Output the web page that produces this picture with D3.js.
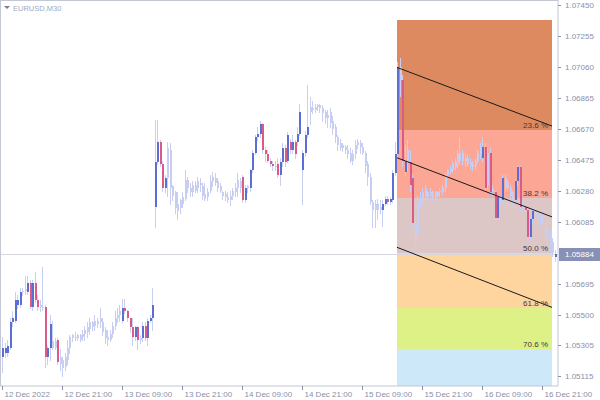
<!DOCTYPE html>
<html><head><meta charset="utf-8">
<script src="https://cdn.jsdelivr.net/npm/d3@7"></script>
<style>html,body{margin:0;padding:0;background:#fff;}svg{display:block;font-family:"Liberation Sans",Arial,sans-serif;}</style>
</head><body><svg id="chart" width="600" height="400"></svg>
<script>
const symbolTitle = "EURUSD,M30";
const timeLabels = ["12 Dec 2022","12 Dec 21:00","13 Dec 09:00","13 Dec 21:00","14 Dec 09:00","14 Dec 21:00","15 Dec 09:00","15 Dec 21:00","16 Dec 09:00","16 Dec 21:00"];
const timeLabelBars = [0,24,48,72,96,120,144,168,192,216];
const priceTickLabels = ["1.07450","1.07255","1.07060","1.06865","1.06670","1.06475","1.06280","1.06085","1.05695","1.05500","1.05305","1.05115"];
const lastPrice = 1.05884;

// bar styles: u = highlighted up, d = highlighted down, n = plain
const barStyles = "uuuuuuuunn"+"ududdnnduu"+"nndnnnnnnn"+"nnnnnnnnnn"+"nnnnnnnnud"+"dddudnuduu"+"uuuddunnnn"+"nnnnnnnnnn"+"nnnnnnnnnn"+"nnnnnndunu"+
  "uuuudddddn"+"duudududuu"+"uuunnnnnnn"+"nnnnnnnnnn"+"nnnnnnnnnn"+"nnuuduuuun"+"dunddnnnnn"+"nnnnnnnnnn"+"nnnnnnnnnn"+"nnudndndun"+"unnnnuudnd"+"duunnnnnnn"+"nu";

const opens = [1.0523,1.0526,1.0526,1.0529,1.0545,1.0546,1.0556,1.0556,1.0564,1.0565,
1.0564,1.0570,1.0555,1.0570,1.0559,1.0556,1.0555,1.0555,1.0523,1.0529,
1.0533,1.0529,1.0534,1.0523,1.0521,1.0517,1.0521,1.0529,1.0535,1.0536,
1.0535,1.0537,1.0536,1.0538,1.0539,1.0541,1.0545,1.0543,1.0546,1.0545,
1.0545,1.0540,1.0536,1.0534,1.0538,1.0543,1.0548,1.0550,1.0546,1.0554,
1.0552,1.0548,1.0542,1.0536,1.0542,1.0535,1.0535,1.0543,1.0535,1.0546,
1.0548,1.0618,1.0646,1.0659,1.0645,1.0630,1.0636,1.0654,1.0631,1.0627,
1.0620,1.0617,1.0620,1.0623,1.0635,1.0630,1.0627,1.0632,1.0630,1.0633,
1.0631,1.0626,1.0624,1.0628,1.0634,1.0636,1.0634,1.0631,1.0627,1.0626,
1.0624,1.0622,1.0625,1.0627,1.0630,1.0634,1.0637,1.0622,1.0630,1.0630,
1.0641,1.0652,1.0662,1.0664,1.0670,1.0654,1.0651,1.0647,1.0645,1.0644,
1.0645,1.0638,1.0646,1.0655,1.0647,1.0659,1.0654,1.0659,1.0659,1.0664,
1.0641,1.0652,1.0663,1.0678,1.0680,1.0679,1.0681,1.0682,1.0680,1.0678,
1.0674,1.0678,1.0672,1.0668,1.0662,1.0658,1.0657,1.0656,1.0654,1.0652,
1.0647,1.0651,1.0657,1.0658,1.0656,1.0652,1.0645,1.0637,1.0621,1.0616,
1.0620,1.0616,1.0616,1.0620,1.0623,1.0621,1.0622,1.0639,1.0651,1.0706,
1.0698,1.0640,1.0647,1.0646,1.0636,1.0608,1.0601,1.0621,1.0622,1.0624,
1.0627,1.0625,1.0627,1.0624,1.0627,1.0627,1.0627,1.0630,1.0638,1.0640,
1.0641,1.0643,1.0646,1.0647,1.0652,1.0647,1.0649,1.0646,1.0645,1.0644,
1.0647,1.0651,1.0649,1.0656,1.0632,1.0652,1.0630,1.0627,1.0611,1.0624,
1.0622,1.0636,1.0633,1.0630,1.0627,1.0622,1.0634,1.0643,1.0620,1.0618,
1.0616,1.0599,1.0610,1.0615,1.0613,1.0612,1.0610,1.0605,1.0601,1.0600,
1.0596,1.0586];

const highs = [1.0536,1.0532,1.0534,1.0548,1.0552,1.0564,1.0562,1.0567,1.0567,1.0574,
1.0574,1.0572,1.0572,1.0577,1.0562,1.0559,1.0580,1.0556,1.0530,1.0550,
1.0546,1.0535,1.0535,1.0528,1.0523,1.0526,1.0534,1.0537,1.0538,1.0539,
1.0538,1.0538,1.0540,1.0543,1.0545,1.0548,1.0546,1.0550,1.0548,1.0554,
1.0548,1.0542,1.0540,1.0540,1.0545,1.0552,1.0554,1.0556,1.0560,1.0560,
1.0553,1.0548,1.0548,1.0543,1.0543,1.0537,1.0545,1.0545,1.0548,1.0550,
1.0567,1.0673,1.0673,1.0660,1.0647,1.0638,1.0659,1.0658,1.0632,1.0628,
1.0627,1.0623,1.0627,1.0641,1.0637,1.0633,1.0634,1.0634,1.0637,1.0636,
1.0633,1.0633,1.0630,1.0638,1.0640,1.0639,1.0636,1.0633,1.0628,1.0628,
1.0627,1.0628,1.0630,1.0633,1.0639,1.0636,1.0638,1.0632,1.0632,1.0642,
1.0654,1.0663,1.0668,1.0672,1.0671,1.0656,1.0654,1.0649,1.0647,1.0647,
1.0649,1.0649,1.0658,1.0657,1.0665,1.0661,1.0663,1.0660,1.0668,1.0683,
1.0654,1.0666,1.0695,1.0687,1.0685,1.0683,1.0683,1.0683,1.0682,1.0679,
1.0679,1.0680,1.0675,1.0670,1.0663,1.0661,1.0658,1.0657,1.0657,1.0655,
1.0654,1.0660,1.0661,1.0660,1.0658,1.0653,1.0647,1.0639,1.0622,1.0622,
1.0623,1.0622,1.0622,1.0625,1.0625,1.0624,1.0641,1.0659,1.0709,1.0712,
1.0701,1.0657,1.0660,1.0654,1.0638,1.0613,1.0625,1.0627,1.0630,1.0632,
1.0628,1.0630,1.0628,1.0628,1.0628,1.0630,1.0632,1.0639,1.0642,1.0644,
1.0647,1.0649,1.0654,1.0662,1.0654,1.0652,1.0651,1.0649,1.0647,1.0649,
1.0654,1.0658,1.0662,1.0658,1.0655,1.0655,1.0632,1.0628,1.0625,1.0625,
1.0638,1.0638,1.0635,1.0632,1.0628,1.0635,1.0644,1.0644,1.0622,1.0620,
1.0617,1.0611,1.0617,1.0617,1.0616,1.0614,1.0614,1.0608,1.0605,1.0603,
1.0598,1.0591];

const lows = [1.0514,1.0523,1.0524,1.0528,1.0543,1.0545,1.0554,1.0555,1.0562,1.0563,
1.0563,1.0554,1.0553,1.0558,1.0553,1.0552,1.0553,1.0517,1.0519,1.0521,
1.0528,1.0528,1.0519,1.0515,1.0511,1.0515,1.0519,1.0526,1.0533,1.0534,
1.0534,1.0533,1.0534,1.0534,1.0536,1.0538,1.0540,1.0540,1.0542,1.0542,
1.0537,1.0532,1.0531,1.0533,1.0536,1.0541,1.0545,1.0546,1.0545,1.0551,
1.0546,1.0539,1.0531,1.0534,1.0528,1.0532,1.0533,1.0534,1.0531,1.0545,
1.0540,1.0605,1.0645,1.0644,1.0628,1.0627,1.0625,1.0620,1.0622,1.0614,
1.0610,1.0614,1.0618,1.0622,1.0627,1.0625,1.0625,1.0627,1.0627,1.0628,
1.0623,1.0622,1.0622,1.0627,1.0631,1.0632,1.0628,1.0627,1.0623,1.0622,
1.0621,1.0619,1.0623,1.0625,1.0625,1.0627,1.0621,1.0621,1.0627,1.0628,
1.0640,1.0651,1.0660,1.0662,1.0652,1.0647,1.0646,1.0644,1.0641,1.0641,
1.0637,1.0632,1.0644,1.0644,1.0646,1.0652,1.0652,1.0649,1.0657,1.0663,
1.0620,1.0650,1.0662,1.0670,1.0677,1.0678,1.0679,1.0678,1.0672,1.0671,
1.0668,1.0668,1.0664,1.0659,1.0654,1.0654,1.0653,1.0652,1.0649,1.0646,
1.0645,1.0649,1.0655,1.0652,1.0651,1.0640,1.0632,1.0620,1.0605,1.0605,
1.0610,1.0614,1.0606,1.0619,1.0620,1.0620,1.0621,1.0638,1.0649,1.0688,
1.0644,1.0638,1.0641,1.0628,1.0606,1.0595,1.0597,1.0618,1.0621,1.0622,
1.0623,1.0624,1.0623,1.0623,1.0624,1.0625,1.0626,1.0628,1.0637,1.0639,
1.0640,1.0641,1.0643,1.0645,1.0645,1.0644,1.0644,1.0642,1.0641,1.0642,
1.0646,1.0649,1.0647,1.0629,1.0629,1.0626,1.0625,1.0610,1.0610,1.0621,
1.0621,1.0628,1.0628,1.0624,1.0620,1.0621,1.0632,1.0617,1.0616,1.0615,
1.0597,1.0597,1.0608,1.0610,1.0608,1.0606,1.0608,1.0597,1.0593,1.0591,
1.0587,1.0584];

const closes = [1.0529,1.0529,1.0530,1.0545,1.0548,1.0559,1.0559,1.0564,1.0565,1.0566,
1.0570,1.0555,1.0570,1.0559,1.0555,1.0555,1.0554,1.0523,1.0529,1.0544,
1.0529,1.0533,1.0520,1.0519,1.0516,1.0523,1.0529,1.0536,1.0537,1.0535,
1.0537,1.0534,1.0538,1.0540,1.0542,1.0545,1.0542,1.0546,1.0544,1.0548,
1.0539,1.0535,1.0534,1.0538,1.0543,1.0548,1.0550,1.0552,1.0554,1.0552,
1.0548,1.0542,1.0536,1.0542,1.0534,1.0534,1.0543,1.0535,1.0546,1.0548,
1.0556,1.0646,1.0659,1.0645,1.0630,1.0636,1.0655,1.0630,1.0625,1.0617,
1.0615,1.0622,1.0624,1.0635,1.0630,1.0627,1.0632,1.0628,1.0634,1.0632,
1.0625,1.0623,1.0627,1.0634,1.0637,1.0633,1.0630,1.0628,1.0625,1.0624,
1.0622,1.0625,1.0628,1.0630,1.0635,1.0630,1.0622,1.0630,1.0631,1.0641,
1.0652,1.0662,1.0664,1.0670,1.0654,1.0651,1.0647,1.0645,1.0644,1.0643,
1.0638,1.0646,1.0655,1.0646,1.0663,1.0654,1.0659,1.0651,1.0664,1.0678,
1.0652,1.0663,1.0668,1.0681,1.0679,1.0681,1.0682,1.0680,1.0677,1.0674,
1.0676,1.0671,1.0667,1.0662,1.0657,1.0655,1.0655,1.0654,1.0651,1.0647,
1.0651,1.0657,1.0659,1.0656,1.0652,1.0644,1.0637,1.0621,1.0616,1.0620,
1.0616,1.0618,1.0620,1.0623,1.0621,1.0623,1.0639,1.0651,1.0706,1.0698,
1.0647,1.0647,1.0654,1.0632,1.0608,1.0601,1.0621,1.0623,1.0627,1.0630,
1.0624,1.0627,1.0624,1.0627,1.0625,1.0628,1.0630,1.0638,1.0641,1.0642,
1.0645,1.0646,1.0651,1.0652,1.0647,1.0649,1.0645,1.0644,1.0643,1.0647,
1.0652,1.0656,1.0656,1.0630,1.0652,1.0627,1.0627,1.0611,1.0624,1.0622,
1.0636,1.0630,1.0630,1.0625,1.0622,1.0634,1.0643,1.0618,1.0618,1.0616,
1.0599,1.0610,1.0615,1.0612,1.0610,1.0608,1.0612,1.0599,1.0599,1.0593,
1.0589,1.05884];

// Fibonacci retracement drawn from bar 158 to bar 220
const fibHigh = 1.0736;
const fibLow = 1.0442;
const fibStartBar = 158;
const fibEndBar = 220;
const fibLevels = [0, 23.6, 38.2, 50, 61.8, 70.6, 100];
const fibLabelLevels = [23.6, 38.2, 50, 61.8, 70.6];
const fibZoneColors = ["#dd8a61","#fca696","#dcc7c6","#fed59f","#ddf187","#cde8f8"];
// channel lines (price at start bar, price at end bar)
const channelStartPrices = [1.07059, 1.06489, 1.05924];
const channelEndPrices = [1.06689, 1.06116, 1.05545];

const svg = d3.select("#chart");
const plot = {left: 1, right: 558, top: 1, bottom: 386};
const x = d3.scaleLinear().domain([0, closes.length - 1]).range([2, 2 + 2.5 * (closes.length - 1)]);
const y = d3.scaleLinear().domain([1.05049, 1.07478]).range([plot.bottom, plot.top]);

svg.append("defs").append("clipPath").attr("id","pc").append("rect")
  .attr("x", plot.left).attr("y", plot.top).attr("width", plot.right - plot.left).attr("height", plot.bottom - plot.top);

const g = svg.append("g").attr("clip-path","url(#pc)");

const fibPrice = lv => fibHigh - (fibHigh - fibLow) * lv / 100;
const zx0 = Math.round(x(fibStartBar)), zx1 = Math.round(x(fibEndBar));
// zones
g.selectAll("rect.zone").data(fibZoneColors).join("rect").attr("class","zone")
  .attr("x", zx0).attr("width", zx1 - zx0)
  .attr("y", (c,i) => Math.round(y(fibPrice(fibLevels[i]))))
  .attr("height", (c,i) => Math.round(y(fibPrice(fibLevels[i+1]))) - Math.round(y(fibPrice(fibLevels[i]))))
  .attr("fill", c => c);

// bid line
g.append("line").attr("x1", plot.left).attr("x2", plot.right)
  .attr("y1", Math.round(y(lastPrice)) + 0.5).attr("y2", Math.round(y(lastPrice)) + 0.5)
  .attr("stroke", "#d6d7de").attr("stroke-width", 1);

// candles
const colors = {u: "#5b6fd3", d: "#dc5b86", n: "#c8cef2"};
const wickColor = "#c9cff2";
const bars = closes.map((c, i) => ({i, o: opens[i], h: highs[i], l: lows[i], c, s: barStyles[i]}));
const cg = g.append("g").attr("shape-rendering","crispEdges");
cg.selectAll("line.wick").data(bars).join("line").attr("class","wick")
  .attr("x1", d => Math.round(x(d.i)) + 0.5).attr("x2", d => Math.round(x(d.i)) + 0.5)
  .attr("y1", d => Math.round(y(d.h))).attr("y2", d => Math.round(y(d.l)) + 1)
  .attr("stroke", wickColor).attr("stroke-width", 1);
cg.selectAll("rect.body").data(bars).join("rect").attr("class","body")
  .attr("x", d => Math.round(x(d.i)))
  .attr("width", 2)
  .attr("y", d => Math.round(y(Math.max(d.o, d.c))))
  .attr("height", d => Math.max(1, Math.round(y(Math.min(d.o, d.c))) - Math.round(y(Math.max(d.o, d.c)))))
  .attr("fill", d => colors[d.s]);

// channel lines
g.selectAll("line.chan").data(channelStartPrices).join("line").attr("class","chan")
  .attr("x1", x(fibStartBar)).attr("x2", x(fibEndBar))
  .attr("y1", p => y(p)).attr("y2", (p,i) => y(channelEndPrices[i]))
  .attr("stroke", "#1a1a1a").attr("stroke-width", 1);

// fib labels
g.selectAll("text.fib").data(fibLabelLevels).join("text").attr("class","fib")
  .attr("x", zx1 - 4).attr("y", lv => y(fibPrice(lv)) - 1.5)
  .attr("text-anchor","end").attr("font-size", 8).attr("fill", "#3a3a3a")
  .text(lv => lv.toFixed(1) + " %");

// frame
svg.append("rect").attr("x", 0.5).attr("y", 0.5).attr("width", plot.right - 0.5).attr("height", plot.bottom - 0.5)
  .attr("fill","none").attr("stroke","#c3c7d6").attr("stroke-width",1);

const axisColor = "#8990aa";
// price axis
const pa = svg.append("g");
priceTickLabels.forEach(t => {
  const yy = Math.round(y(+t)) + 0.5;
  pa.append("line").attr("x1", plot.right).attr("x2", plot.right + 3).attr("y1", yy).attr("y2", yy).attr("stroke", axisColor);
  pa.append("text").attr("x", plot.right + 7).attr("y", yy).attr("dy","0.35em")
    .attr("font-size", 8).attr("fill", axisColor).text(t);
});
const ly = Math.round(y(lastPrice));
pa.append("rect").attr("x", plot.right + 1).attr("y", ly - 6).attr("width", 600 - plot.right - 1).attr("height", 13).attr("fill", "#8891b5");
pa.append("text").attr("x", plot.right + 7).attr("y", ly + 0.5).attr("dy","0.35em")
  .attr("font-size", 8).attr("fill", "#ffffff").text(lastPrice.toFixed(5));

// time axis
const ta = svg.append("g");
timeLabelBars.forEach((b, k) => {
  const xx = Math.round(x(b)) + 0.5;
  ta.append("line").attr("x1", xx).attr("x2", xx).attr("y1", plot.bottom).attr("y2", plot.bottom + 4).attr("stroke", axisColor);
  ta.append("text").attr("x", xx + 2).attr("y", 397).attr("font-size", 8).attr("fill", axisColor).text(timeLabels[k]);
});

// title
svg.append("path").attr("d","M4,6 L10,6 L7,9 Z").attr("fill","#7c7f8a");
svg.append("text").attr("x", 13).attr("y", 11).attr("font-size", 7.5).attr("fill", "#a2a8c2").text(symbolTitle);
</script></body></html>
